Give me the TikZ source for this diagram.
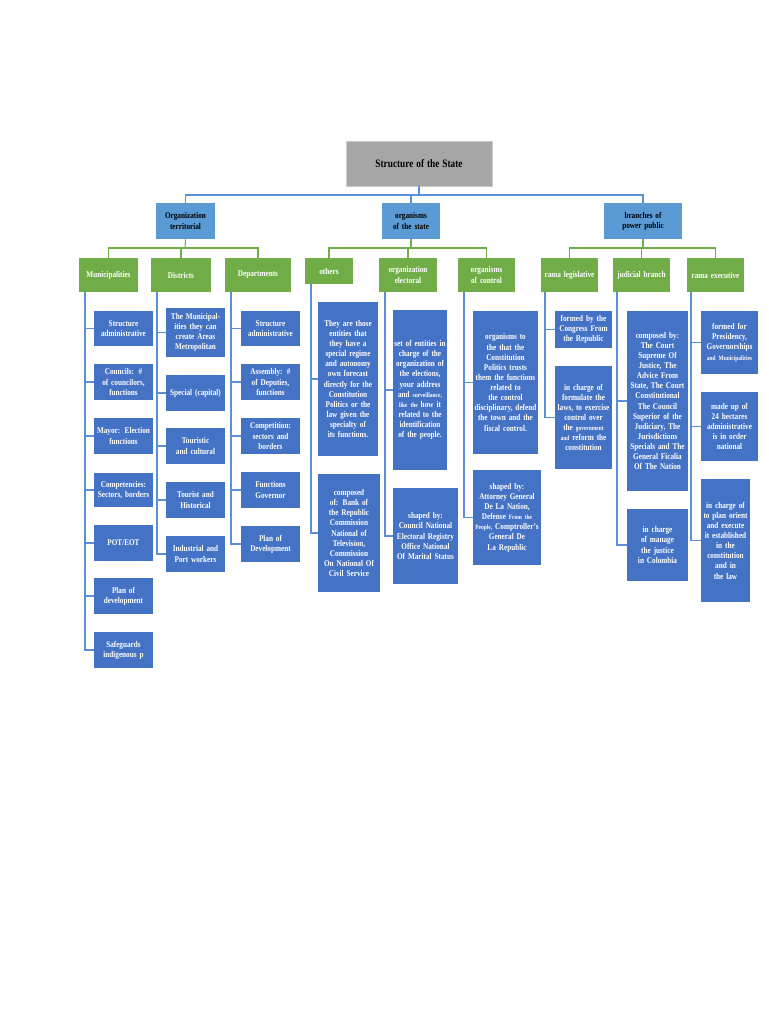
\documentclass[tikz,border=0pt]{standalone}
\usepackage{fontspec}
\setmainfont{Liberation Serif}[FakeStretch=0.82]
\begin{document}
\begin{tikzpicture}[x=0.75pt,y=-0.75pt,
  every node/.style={font=\bfseries\fontsize{6.6}{7.6}\selectfont,inner sep=0.5pt,align=center},
  graybox/.style={fill=gray!70,text=black,draw=gray!40},
  greenbox/.style={fill=green!45!black!60!white,fill=greenc,text=white},
  bluebox/.style={fill=bluec,text=white},
  midbox/.style={fill=midc,text=black},
  bline/.style={draw=linec,line width=0.8pt},
  gline/.style={draw=greenc,line width=0.8pt}]
\definecolor{bluec}{HTML}{4472C4}
\definecolor{greenc}{HTML}{70AD47}
\definecolor{midc}{HTML}{5B9BD5}
\definecolor{linec}{HTML}{5B8FD8}
\newcommand\bx[7]{%
  \pgfmathsetmacro\bw{(#5-#3)*0.75}\pgfmathsetmacro\bh{(#6-#4)*0.75}%
  \node[#1,minimum width=\bw pt,minimum height=\bh pt,text width=\bw pt-2pt] (#2) at ({(#3+#5)/2},{(#4+#6)/2}) {#7};}
\useasboundingbox (0,0) rectangle (768,1024);

% top levels
\bx{graybox}{state}{346}{141}{492}{186}{\fontsize{8.5}{10}\selectfont Structure of the State}
\bx{midbox}{terr}{156}{203}{215}{239}{Organization territorial}
\bx{midbox}{orgs}{382}{203}{440}{239}{organisms of the state}
\bx{midbox}{powr}{604}{203}{682}{239}{branches of power public}
\coordinate (t1) at (419,195);
\draw[bline] (state.south) -- (t1);
\draw[bline] (terr.north) |- (t1) -| (powr.north);
\draw[bline] (orgs.north) -- (orgs.north |- t1);

% third level
\bx{greenbox}{mun}{79}{258}{138}{292}{Municipalities}
\bx{greenbox}{dis}{151}{258}{211}{292}{Districts}
\bx{greenbox}{dep}{225}{258}{291}{292}{Departments}
\bx{greenbox}{oth}{305}{258}{353}{284}{others}
\bx{greenbox}{ele}{379}{258}{437}{292}{organization electoral}
\bx{greenbox}{ctl}{458}{258}{515}{292}{organisms of control}
\bx{greenbox}{leg}{541}{258}{598}{292}{rama legislative}
\bx{greenbox}{jud}{613}{258}{670}{292}{judicial branch}
\bx{greenbox}{exe}{687}{258}{744}{292}{rama executive}
\coordinate (g1) at (185,248);
\coordinate (g2) at (411,248);
\coordinate (g3) at (643,248);
\draw[gline] (terr.south) -- (g1);
\draw[gline] (mun.north) |- (g1) -| (dep.north);
\draw[gline] (dis.north) -- (dis.north |- g1);
\draw[gline] (orgs.south) -- (g2);
\draw[gline] (oth.north) |- (g2) -| (ctl.north);
\draw[gline] (ele.north) -- (ele.north |- g2);
\draw[gline] (powr.south) -- (g3);
\draw[gline] (leg.north) |- (g3) -| (exe.north);
\draw[gline] (jud.north) -- (jud.north |- g3);

% Municipalities
\bx{bluebox}{m1}{94}{311}{153}{346}{Structure administrative}
\bx{bluebox}{m2}{94}{364}{153}{400}{Councils: \# of councilors, functions}
\bx{bluebox}{m3}{94}{418}{153}{454}{Mayor: Election functions}
\bx{bluebox}{m4}{94}{473}{153}{507}{Competencies: Sectors, borders}
\bx{bluebox}{m5}{94}{525}{153}{561}{POT/EOT}
\bx{bluebox}{m6}{94}{578}{153}{614}{Plan of development}
\bx{bluebox}{m7}{94}{632}{153}{668}{Safeguards indigenous p}
\coordinate (mt) at (85,292);
\foreach \i in {1,...,7} \draw[bline] (mt) |- (m\i.west);

% Districts
\bx{bluebox}{d1}{166}{308}{225}{357}{The Municipalities they can create Areas Metropolitan}
\bx{bluebox}{d2}{166}{375}{225}{411}{Special (capital)}
\bx{bluebox}{d3}{166}{428}{225}{464}{Touristic and cultural}
\bx{bluebox}{d4}{166}{482}{225}{518}{Tourist and Historical}
\bx{bluebox}{d5}{166}{536}{225}{572}{Industrial and Port workers}
\coordinate (dt) at (157,292);
\foreach \i in {1,...,5} \draw[bline] (dt) |- (d\i.west);

% Departments
\bx{bluebox}{p1}{241}{311}{300}{346}{Structure administrative}
\bx{bluebox}{p2}{241}{364}{300}{400}{Assembly: \# of Deputies, functions}
\bx{bluebox}{p3}{241}{418}{300}{454}{Competition: sectors and borders}
\bx{bluebox}{p4}{241}{472}{300}{508}{Functions Governor}
\bx{bluebox}{p5}{241}{526}{300}{562}{Plan of Development}
\coordinate (pt) at (231,292);
\foreach \i in {1,...,5} \draw[bline] (pt) |- (p\i.west);

% others
\bx{bluebox}{o1}{318}{302}{378}{456}{They are those entities that they have a special regime and autonomy own forecast directly for the Constitution Politics or the law given the specialty of its functions.}
\bx{bluebox}{o2}{318}{474}{380}{592}{composed of: Bank of the Republic Commission National of Television, Commission On National Of Civil Service}
\coordinate (ot) at (311,284);
\foreach \i in {1,2} \draw[bline] (ot) |- (o\i.west);

% electoral
\bx{bluebox}{e1}{393}{310}{447}{470}{set of entities in charge of the organization of the elections, your address and {\tiny surveillance, like the} how it related to the identification of the people.}
\bx{bluebox}{e2}{393}{488}{458}{584}{shaped by: Council National Electoral Registry Office National Of Marital Status}
\coordinate (et) at (385,292);
\foreach \i in {1,2} \draw[bline] (et) |- (e\i.west);

% control
\bx{bluebox}{c1}{473}{311}{538}{454}{organisms to the that the Constitution Politics trusts them the functions related to the control disciplinary, defend the town and the fiscal control.}
\bx{bluebox}{c2}{473}{470}{541}{565}{shaped by: Attorney General De La Nation, Defense {\tiny From the People,} Comptroller's General De La Republic}
\coordinate (ct) at (464,292);
\foreach \i in {1,2} \draw[bline] (ct) |- (c\i.west);

% legislative
\bx{bluebox}{l1}{555}{311}{612}{348}{formed by the Congress From the Republic}
\bx{bluebox}{l2}{555}{366}{612}{469}{in charge of formulate the laws, to exercise control over the {\tiny government and} reform the constitution}
\coordinate (lt) at (545,292);
\foreach \i in {1,2} \draw[bline] (lt) |- (l\i.west);

% judicial
\bx{bluebox}{j1}{627}{311}{688}{491}{composed by: The Court Supreme Of Justice, The Advice From State, The Court Constitutional The Council Superior of the Judiciary, The Jurisdictions Specials and The General Ficalia Of The Nation}
\bx{bluebox}{j2}{627}{509}{688}{581}{in charge of manage the justice in Colombia}
\coordinate (jt) at (617,292);
\foreach \i in {1,2} \draw[bline] (jt) |- (j\i.west);

% executive
\bx{bluebox}{x1}{701}{311}{758}{374}{formed for Presidency, Governorships {\tiny and Municipalities}}
\bx{bluebox}{x2}{701}{392}{758}{461}{made up of 24 hectares administrative is in order national}
\bx{bluebox}{x3}{701}{479}{750}{602}{in charge of to plan orient and execute it established in the constitution and in the law}
\coordinate (xt) at (691,292);
\foreach \i in {1,2,3} \draw[bline] (xt) |- (x\i.west);
\end{tikzpicture}
\end{document}
